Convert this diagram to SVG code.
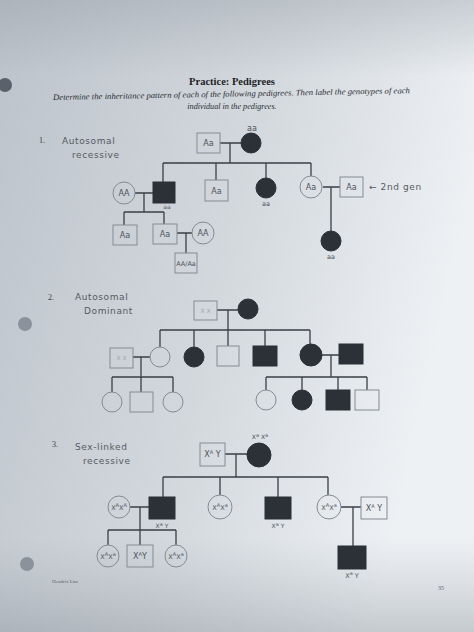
<svg xmlns="http://www.w3.org/2000/svg" width="474" height="632" viewBox="0 0 474 632">
<defs>
<linearGradient id="page" x1="0" y1="0" x2="1" y2="0.3">
<stop offset="0" stop-color="#bcc3cb"/>
<stop offset="0.55" stop-color="#d3d8dd"/>
<stop offset="1" stop-color="#eef1f4"/>
</linearGradient>
<linearGradient id="shade" x1="0" y1="0" x2="0" y2="1">
<stop offset="0" stop-color="#8d96a0" stop-opacity="0.35"/>
<stop offset="0.12" stop-color="#8d96a0" stop-opacity="0"/>
<stop offset="0.85" stop-color="#8d96a0" stop-opacity="0"/>
<stop offset="1" stop-color="#7b838c" stop-opacity="0.35"/>
</linearGradient>
<style>
.ln{stroke:#3a3f45;stroke-width:1.3;fill:none}
.op{fill:none;stroke:#858b93;stroke-width:1}
.fl{fill:#2b3137;stroke:#2b3137;stroke-width:1}
.hw{font-family:"DejaVu Sans",sans-serif;font-size:8px;fill:#4d535a;text-anchor:middle}
.hl{font-family:"DejaVu Sans",sans-serif;font-size:9px;fill:#555b62;letter-spacing:0.6px}
.num{font-family:"Liberation Serif",serif;font-size:8px;fill:#3a3f45}
.title{font-family:"Liberation Serif",serif;font-weight:bold;font-size:10.5px;fill:#1e2226;text-anchor:middle}
.sub{font-family:"Liberation Serif",serif;font-style:italic;font-size:8.2px;fill:#2a2e33}
.sm{font-size:5px}
</style>
</defs>
<rect width="474" height="632" fill="url(#page)"/>
<rect width="474" height="632" fill="url(#shade)"/>
<circle cx="5" cy="85" r="7" fill="#59616b"/>
<circle cx="25" cy="324" r="7" fill="#8a939c"/>
<circle cx="27" cy="564" r="7" fill="#8a939c"/>

<g id="header">
<text class="title" x="232" y="85">Practice: Pedigrees</text>
<text class="sub" x="53" y="100" textLength="357" lengthAdjust="spacingAndGlyphs" transform="rotate(-1.1 53 100)">Determine the inheritance pattern of each of the following pedigrees.  Then label the genotypes of each</text>
<text class="sub" x="232" y="109" text-anchor="middle">individual in the pedigrees.</text>
</g>

<g id="connectors">
<path class="ln" d="M220 143H241 M230 143V163 M163 163H311 M163 163V182 M216 163V180 M266 163V178 M311 163V176"/>
<path class="ln" d="M135 193H153 M144 193V212 M124 212H164 M124 212V225 M164 212V224"/>
<path class="ln" d="M177 233H192 M186 233V253"/>
<path class="ln" d="M323 187H340 M331 187V231"/>
<path class="ln" d="M217 310H238 M228 310V346 M160 330H310 M160 330V347 M194 330V347 M265 330V346 M310 330V344"/>
<path class="ln" d="M133 357H150 M141 357V377 M112 377H173 M112 377V392 M141 377V392 M173 377V392"/>
<path class="ln" d="M322 355H339 M331 355V377 M266 377H367 M266 377V390 M302 377V390 M338 377V390 M367 377V390"/>
<path class="ln" d="M225 454H247 M236 454V477 M163 477H328 M163 477V497 M220 477V495 M278 477V497 M328 477V495"/>
<path class="ln" d="M130 507H149 M140 507V530 M108 530H176 M108 530V545 M140 530V545 M176 530V545"/>
<path class="ln" d="M341 507H361 M353 507V546"/>
</g>

<g id="label1">
<text class="num" x="39" y="143">1.</text>
<text class="hl" x="62" y="144">Autosomal</text>
<text class="hl" x="72" y="158">recessive</text>
</g>

<g id="p1-gf"><rect class="op" x="197" y="133" width="23" height="20"/><text class="hw" x="208.5" y="146">Aa</text></g>
<g id="p1-gm"><circle class="fl" cx="251" cy="143" r="10"/><text class="hw" x="252" y="131">aa</text></g>
<g id="p1-c1"><rect class="fl" x="153" y="182" width="22" height="21"/><text class="hw" x="167" y="209" style="font-size:6px">aa</text></g>
<g id="p1-c1w"><circle class="op" cx="124" cy="193" r="11"/><text class="hw" x="124" y="196">AA</text></g>
<g id="p1-c2"><rect class="op" x="205" y="180" width="23" height="21"/><text class="hw" x="216.5" y="194">Aa</text></g>
<g id="p1-c3"><circle class="fl" cx="266" cy="188" r="10"/><text class="hw" x="266" y="206" style="font-size:6.5px">aa</text></g>
<g id="p1-c4"><circle class="op" cx="311" cy="187" r="11"/><text class="hw" x="311" y="190">Aa</text></g>
<g id="p1-c4h"><rect class="op" x="340" y="177" width="23" height="20"/><text class="hw" x="351.5" y="190">Aa</text><text class="hl" x="369" y="190">← 2nd gen</text></g>
<g id="p1-g1"><rect class="op" x="113" y="225" width="24" height="20"/><text class="hw" x="125" y="238">Aa</text></g>
<g id="p1-g2"><rect class="op" x="153" y="224" width="24" height="20"/><text class="hw" x="165" y="237">Aa</text></g>
<g id="p1-g2w"><circle class="op" cx="203" cy="233" r="11"/><text class="hw" x="203" y="236">AA</text></g>
<g id="p1-gg"><rect class="op" x="175" y="253" width="22" height="20"/><text class="hw" x="186" y="266" style="font-size:6.5px">AA/Aa</text></g>
<g id="p1-g3"><circle class="fl" cx="331" cy="241" r="10"/><text class="hw" x="331" y="259" style="font-size:6.5px">aa</text></g>

<g id="label2">
<text class="num" x="48" y="300">2.</text>
<text class="hl" x="75" y="300">Autosomal</text>
<text class="hl" x="84" y="314">Dominant</text>
</g>

<g id="p2-gf"><rect class="op" x="194" y="301" width="23" height="19"/><text class="hw" x="205.5" y="313" style="fill:#a0a6ad;font-size:6px">X X</text></g>
<g id="p2-gm"><circle class="fl" cx="248" cy="309" r="10"/></g>
<g id="p2-c1"><circle class="op" cx="160" cy="357" r="10"/></g>
<g id="p2-c1h"><rect class="op" x="110" y="348" width="23" height="20"/><text class="hw" x="121.5" y="360" style="fill:#a0a6ad;font-size:6px">X X</text></g>
<g id="p2-c2"><circle class="fl" cx="194" cy="357" r="10"/></g>
<g id="p2-c3"><rect class="op" x="217" y="346" width="22" height="20"/></g>
<g id="p2-c4"><rect class="fl" x="253" y="346" width="24" height="20"/></g>
<g id="p2-c5"><circle class="fl" cx="311" cy="355" r="11"/></g>
<g id="p2-c5h"><rect class="fl" x="339" y="344" width="24" height="20"/></g>
<g id="p2-g1"><circle class="op" cx="112" cy="402" r="10"/></g>
<g id="p2-g2"><rect class="op" x="130" y="392" width="23" height="20"/></g>
<g id="p2-g3"><circle class="op" cx="173" cy="402" r="10"/></g>
<g id="p2-g4"><circle class="op" cx="266" cy="400" r="10"/></g>
<g id="p2-g5"><circle class="fl" cx="302" cy="400" r="10"/></g>
<g id="p2-g6"><rect class="fl" x="326" y="390" width="24" height="20"/></g>
<g id="p2-g7"><rect class="op" x="355" y="390" width="24" height="20"/></g>

<g id="label3">
<text class="num" x="52" y="447">3.</text>
<text class="hl" x="75" y="450">Sex-linked</text>
<text class="hl" x="83" y="464">recessive</text>
</g>

<g id="p3-gf"><rect class="op" x="200" y="443" width="25" height="23"/><text class="hw" x="212.5" y="457">X<tspan class="sm" dy="-3">A</tspan><tspan dy="3"> Y</tspan></text></g>
<g id="p3-gm"><circle class="fl" cx="259" cy="455" r="12"/><text class="hw" x="260" y="439" style="font-size:6px">X<tspan class="sm" dy="-2">a</tspan><tspan dy="2"> X</tspan><tspan class="sm" dy="-2">a</tspan></text></g>
<g id="p3-c1w"><circle class="op" cx="119" cy="507" r="11"/><text class="hw" x="119" y="510" style="font-size:6.5px">X<tspan class="sm" dy="-3">A</tspan><tspan dy="3">X</tspan><tspan class="sm" dy="-3">A</tspan></text></g>
<g id="p3-c1"><rect class="fl" x="149" y="497" width="26" height="22"/><text class="hw" x="162" y="528" style="font-size:6px">X<tspan class="sm" dy="-2">a</tspan><tspan dy="2"> Y</tspan></text></g>
<g id="p3-c2"><circle class="op" cx="220" cy="507" r="12"/><text class="hw" x="220" y="510" style="font-size:6.5px">X<tspan class="sm" dy="-3">A</tspan><tspan dy="3">X</tspan><tspan class="sm" dy="-3">a</tspan></text></g>
<g id="p3-c3"><rect class="fl" x="265" y="497" width="26" height="22"/><text class="hw" x="278" y="528" style="font-size:6px">X<tspan class="sm" dy="-2">a</tspan><tspan dy="2"> Y</tspan></text></g>
<g id="p3-c4"><circle class="op" cx="329" cy="507" r="12"/><text class="hw" x="329" y="510" style="font-size:6.5px">X<tspan class="sm" dy="-3">A</tspan><tspan dy="3">X</tspan><tspan class="sm" dy="-3">a</tspan></text></g>
<g id="p3-c4h"><rect class="op" x="361" y="497" width="26" height="22"/><text class="hw" x="374" y="511">X<tspan class="sm" dy="-3">A</tspan><tspan dy="3"> Y</tspan></text></g>
<g id="p3-g1"><circle class="op" cx="108" cy="556" r="11"/><text class="hw" x="108" y="559" style="font-size:6.5px">X<tspan class="sm" dy="-3">A</tspan><tspan dy="3">X</tspan><tspan class="sm" dy="-3">a</tspan></text></g>
<g id="p3-g2"><rect class="op" x="127" y="545" width="26" height="22"/><text class="hw" x="140" y="559">X<tspan class="sm" dy="-3">A</tspan><tspan dy="3">Y</tspan></text></g>
<g id="p3-g3"><circle class="op" cx="176" cy="556" r="11"/><text class="hw" x="176" y="559" style="font-size:6.5px">X<tspan class="sm" dy="-3">A</tspan><tspan dy="3">X</tspan><tspan class="sm" dy="-3">a</tspan></text></g>
<g id="p3-g4"><rect class="fl" x="338" y="546" width="28" height="23"/><text class="hw" x="352" y="578" style="font-size:6.5px">X<tspan class="sm" dy="-3">a</tspan><tspan dy="3"> Y</tspan></text></g>

<g id="footer">
<text class="num" x="52" y="583" style="font-size:5px;fill:#5a6068">Hendrix Line</text>
<text class="num" x="438" y="590" style="font-size:6px;fill:#5a6068">35</text>
</g>
</svg>
